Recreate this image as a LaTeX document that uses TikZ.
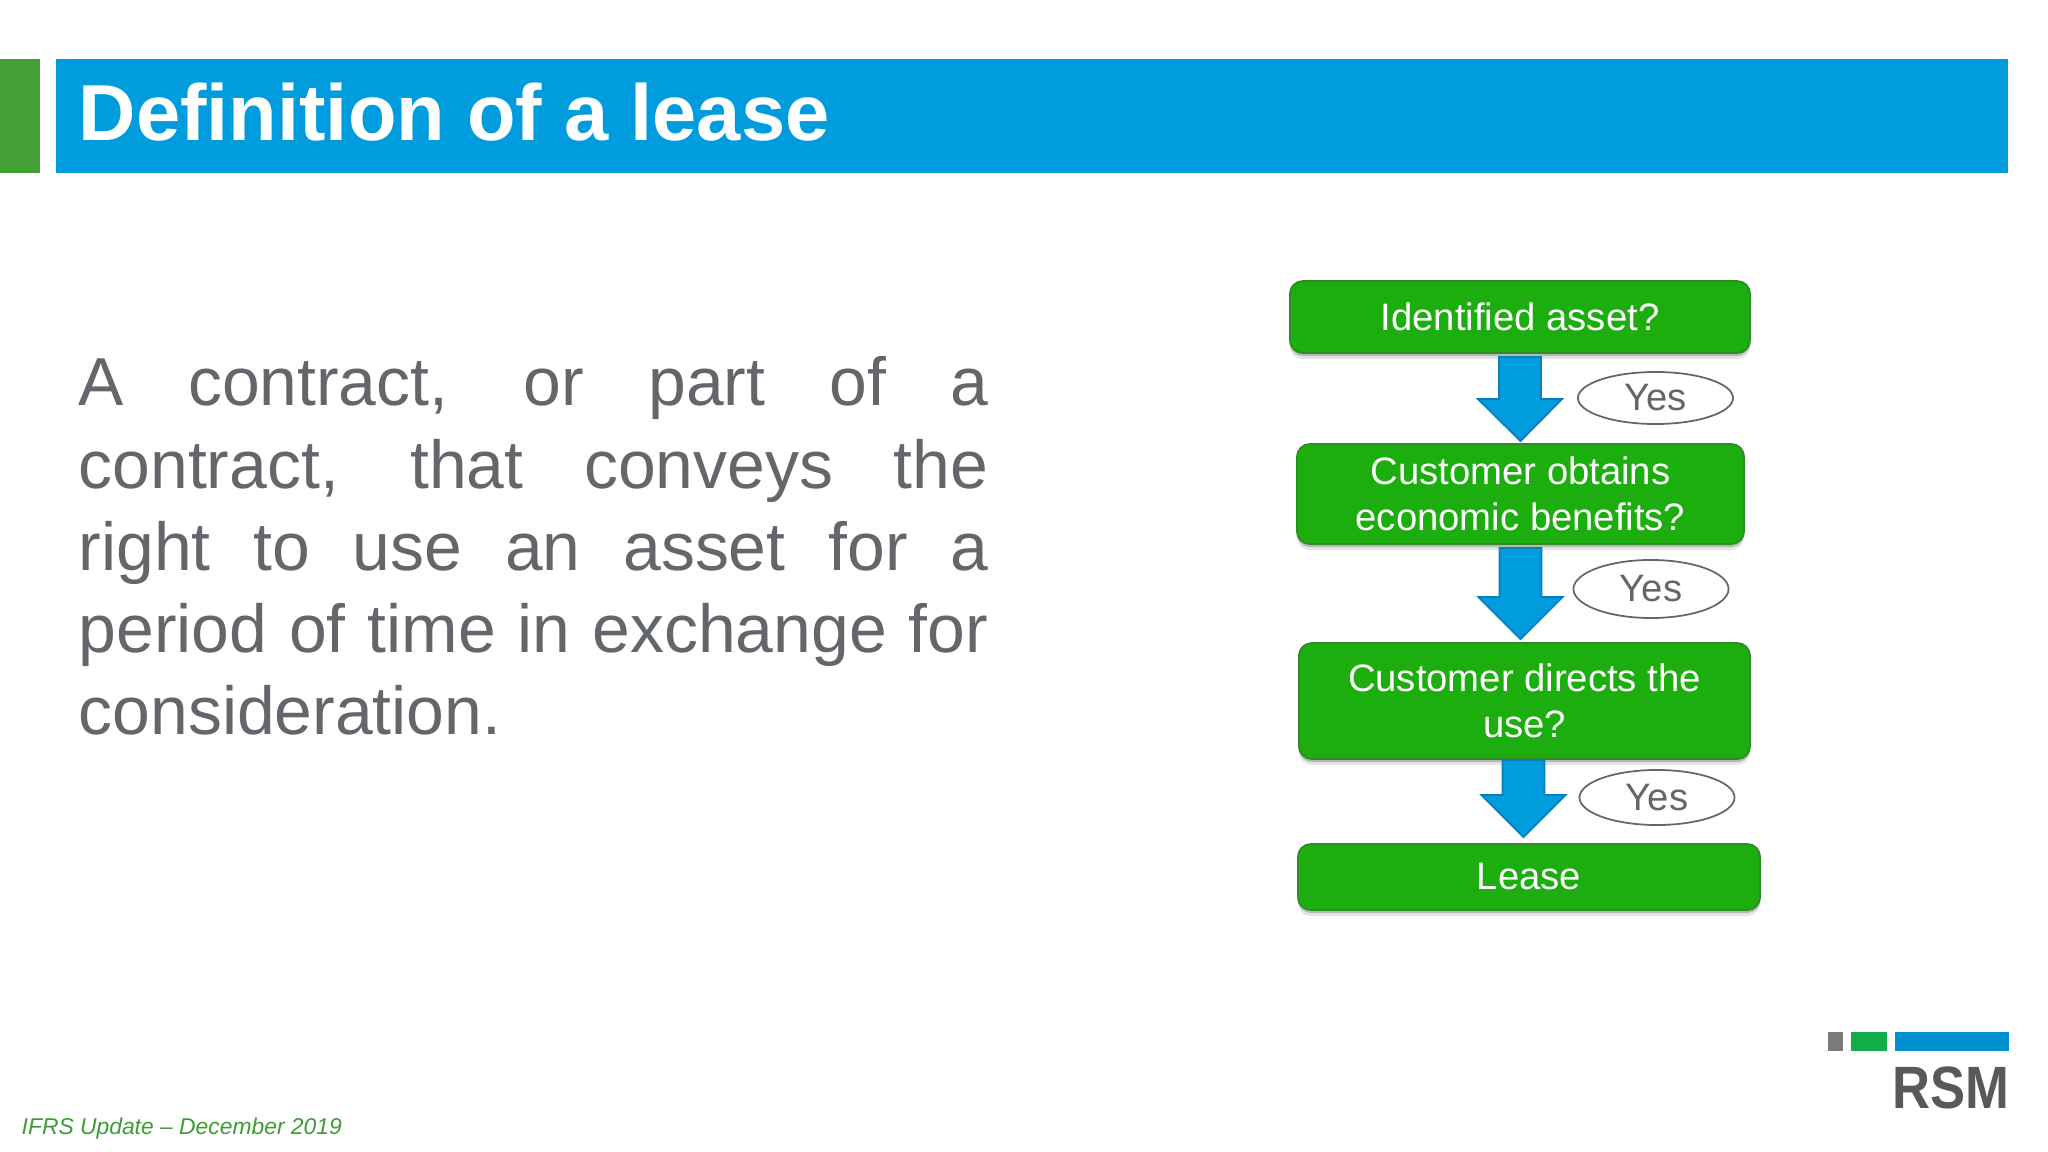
\documentclass[tikz,border=0pt]{standalone}
\usepackage{fontspec}
\setmainfont{Liberation Sans}
\usetikzlibrary{calc,shapes.geometric,shadows}
\definecolor{bandblue}{HTML}{009CDE}
\definecolor{bandgreen}{HTML}{43A035}
\definecolor{boxgreen}{HTML}{1CAE0E}
\definecolor{boxedge}{HTML}{2F8A27}
\definecolor{arrowedge}{HTML}{0A7FBF}
\definecolor{textgrey}{HTML}{63666A}
\definecolor{logogrey}{HTML}{58595B}
\definecolor{footgreen}{HTML}{3F9C35}
\definecolor{logoblue}{HTML}{0091D0}
\definecolor{logogreen}{HTML}{12AD4B}
\tikzset{
	stepbox/.style={draw=boxedge, fill=boxgreen, line width=0.5pt, rounded corners=0.13cm, text=white, align=center, inner sep=0pt, font=\fontsize{10.88}{13.1}\selectfont, drop shadow={shadow xshift=0cm, shadow yshift=-0.06cm, opacity=0.1, fill=black}, drop shadow={shadow xshift=0cm, shadow yshift=-0.03cm, opacity=0.2, fill=black}},
	yesoval/.style={draw=textgrey, fill=white, ellipse, line width=0.5pt, inner sep=0pt, minimum width=1.55cm, text=textgrey, font=\fontsize{10.88}{12}\selectfont},
	flowarrow/.style={draw=arrowedge, fill=bandblue, line width=0.5pt, to path={let \p1=(\tikztostart), \p2=(\tikztotarget) in (\x1-0.21cm,\y1) -- (\x1-0.21cm,\y2+0.42cm) -- (\x1-0.42cm,\y2+0.42cm) -- (\x2,\y2) -- (\x1+0.42cm,\y2+0.42cm) -- (\x1+0.21cm,\y2+0.42cm) -- (\x1+0.21cm,\y1) -- cycle}},
	logobar/.style={inner sep=0pt, minimum height=0.19cm}
}
\begin{document}
\begin{tikzpicture}[x=0.01cm, y=-0.01cm]
	\useasboundingbox (0,0) rectangle (2048,1152);

	% Title band
	\node[fill=bandgreen, inner sep=0pt, minimum width=0.4cm, minimum height=1.13cm] (tab) at (20,116) {};
	\node[fill=bandblue, inner sep=0pt, minimum width=19.51cm, minimum height=1.13cm] (band) at (1032,116) {};
	\node[anchor=base west, inner sep=0pt, text=white, font=\fontsize{22.6}{27}\selectfont\bfseries] (title) at (78,141) {Definition of a lease};

	% Definition text
	\node[anchor=north west, inner sep=0pt, text width=9.09cm, align=justify, text=textgrey, font=\fontsize{19.3}{23.4}\selectfont] (definition) at (78,356) {A contract, or part of a\linebreak contract, that conveys the\linebreak right to use an asset for a\linebreak period of time in exchange for\linebreak consideration.};

	% Flow steps
	\node[stepbox, minimum width=4.60cm, minimum height=0.72cm] (asset) at (1520,317) {Identified asset?};
	\node[stepbox, minimum width=4.47cm, minimum height=1cm] (benefits) at (1520.5,494) {Customer obtains\\economic benefits?};
	\node[stepbox, minimum width=4.51cm, minimum height=1.16cm] (directs) at (1524.5,701) {Customer directs the\\use?};
	\node[stepbox, minimum width=4.62cm, minimum height=0.66cm] (lease) at (1529,877) {Lease};

	% Arrows between the steps
	\draw[flowarrow] ([yshift=-0.03cm]asset.south) to ([yshift=0.02cm]benefits.north);
	\draw[flowarrow] ([yshift=-0.03cm]benefits.south) to ([yshift=0.03cm]benefits.south |- directs.north);
	\draw[flowarrow] ([xshift=-0.01cm]directs.south) to ([xshift=-0.01cm, yshift=0.06cm]directs.south |- lease.north);

	% Yes labels
	\node[yesoval, minimum height=0.52cm] (yesa) at (1655.5,398) {Yes};
	\node[yesoval, minimum height=0.58cm] (yesb) at (1651,589) {Yes};
	\node[yesoval, minimum height=0.55cm] (yesc) at (1657,797.5) {Yes};

	% Footer
	\node[anchor=base west, inner sep=0pt, text=footgreen, font=\fontsize{6.5}{8}\selectfont\itshape] (footer) at (21,1134) {IFRS Update -- December 2019};

	% Logo
	\node[logobar, fill=logogrey!80, anchor=north west, minimum width=0.15cm] (logoa) at (1827,1031) {};
	\node[logobar, fill=logogreen, anchor=north west, minimum width=0.36cm] (logob) at (1850,1031) {};
	\node[logobar, fill=logoblue, anchor=north west, minimum width=1.14cm] (logoc) at (1894,1031) {};
	\node[anchor=base east, inner sep=0pt, text=logogrey, xscale=0.88, transform shape, font=\fontsize{17}{18}\selectfont\bfseries] (rsm) at (2010,1108) {RSM};
\end{tikzpicture}
\end{document}
